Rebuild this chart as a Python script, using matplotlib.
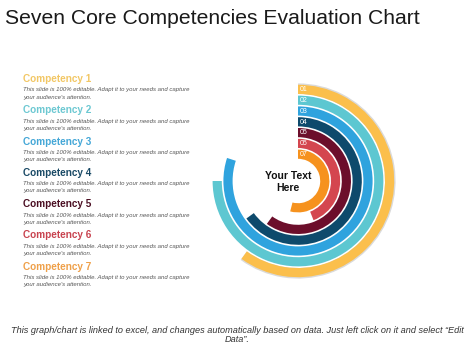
import numpy as np
import matplotlib
matplotlib.use("Agg")
import matplotlib.pyplot as plt

# ---- data ----
ring_labels = ["01", "02", "03", "04", "05", "05", "07"]
ring_values = [60, 75, 80, 65, 60, 44, 54]  # percent of full circle
ring_colors = ["#FBBF4C", "#5DC7D1", "#2FA3DE", "#0E4A6C", "#6C0E2B", "#D4464F", "#F6921E"]
comp_titles = ["Competency 1", "Competency 2", "Competency 3", "Competency 4",
               "Competency 5", "Competency 6", "Competency 7"]
comp_colors = ["#F2C765", "#6CC8D2", "#44A7D7", "#1A4A66", "#4B0F23", "#C8434F", "#EFA049"]
desc_line1 = "This slide is 100% editable. Adapt it to your needs and capture"
desc_line2 = "your audience's attention."
title = "Seven Core Competencies Evaluation Chart"
center_text = "Your Text\nHere"
footer = ("This graph/chart is linked to excel, and changes automatically based on data. "
          "Just left click on it and select \u201cEdit\nData\u201d.")

W, H = 474, 355
plt.rcParams['font.family'] = ['Liberation Sans', 'DejaVu Sans']
fig = plt.figure(figsize=(W / 100, H / 100), dpi=100)
fig.patch.set_facecolor("white")

def px(x, y):
    return x / W, 1 - y / H

# title
fig.text(*px(5, 18), title, fontsize=15.2, ha="left", va="center", color="#1a1a1a")

# left column
for i, (t, c) in enumerate(zip(comp_titles, comp_colors)):
    y = 79 + i * 31.3
    fig.text(*px(23, y), t, fontsize=7.2, fontweight="bold", color=c, ha="left", va="center")
    fig.text(*px(23, y + 11), desc_line1, fontsize=4.35, style="italic", color="#555555",
             ha="left", va="center")
    fig.text(*px(23, y + 18), desc_line2, fontsize=4.35, style="italic", color="#555555",
             ha="left", va="center")

# footer
fig.text(*px(237, 335), footer, fontsize=6.6, style="italic", color="#333333",
         ha="center", va="center", linespacing=1.1)

# polar rings
cx, cy, R = 298, 181, 100
ax = fig.add_axes([(cx - R) / W, (H - cy - R) / H, 2 * R / W, 2 * R / H], projection="polar")
ax.set_theta_zero_location("N")
ax.set_theta_direction(-1)
ax.set_ylim(0, R)
ax.axis("off")

band = 9.2
pitch = 10.8
r0 = 91.6
for i, (lab, v, c) in enumerate(zip(ring_labels, ring_values, ring_colors)):
    r = r0 - i * pitch
    span = 2 * np.pi * v / 100.0
    if i == 0:
        ax.bar(0, band + 1.4, width=span, bottom=r - band / 2, align="edge",
               color="#DADADA", edgecolor="none", zorder=1)
    ax.bar(0, band, width=span, bottom=r - band / 2, align="edge",
           color=c, edgecolor="none", zorder=2)
    th = np.arcsin(6.0 / r)
    ax.text(th, r, lab, fontsize=5, color="white", ha="center", va="center", zorder=3)

fig.text(*px(288, 182), center_text, fontsize=7.5, fontweight="bold", color="#111111",
         ha="center", va="center", linespacing=1.15)

fig.savefig("out.png", dpi=100, facecolor="white")
